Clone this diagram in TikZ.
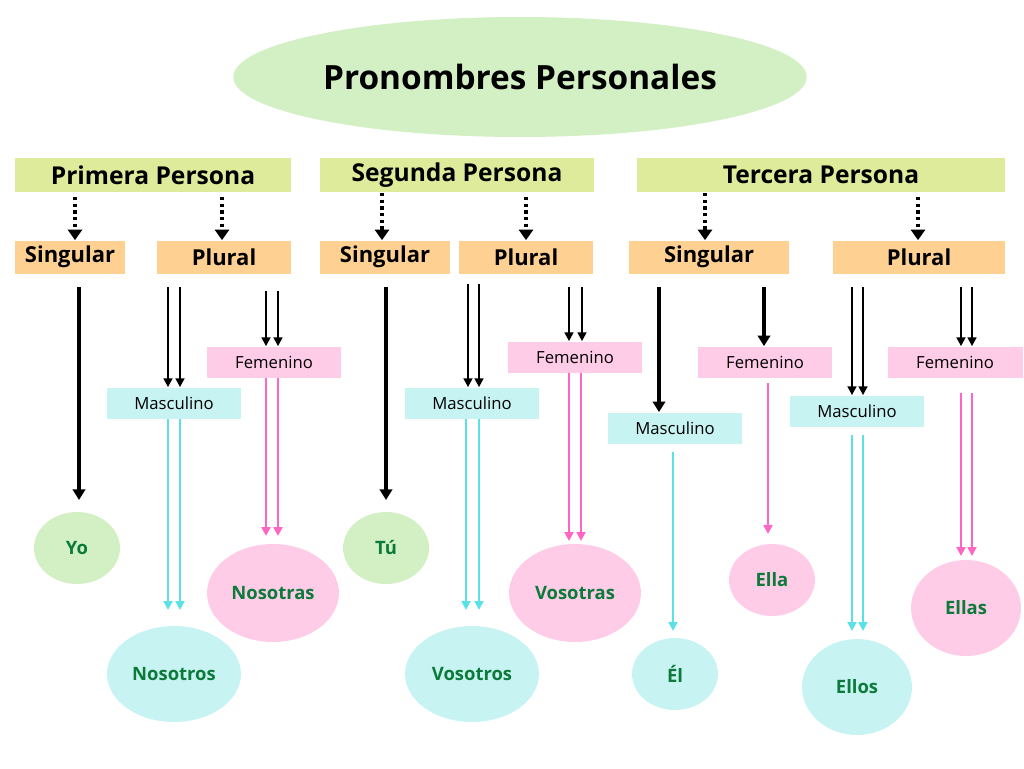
\documentclass[tikz,border=0pt]{standalone}
\usepackage{fontspec}
\setmainfont{Open Sans}
\usetikzlibrary{arrows.meta,shapes.geometric}
\definecolor{tg}{HTML}{D3F0C5}
\definecolor{hy}{HTML}{DDEB9B}
\definecolor{org}{HTML}{FED193}
\definecolor{cy}{HTML}{C8F3F3}
\definecolor{pk}{HTML}{FFCCE8}
\definecolor{cyl}{HTML}{5CE1E6}
\definecolor{pkl}{HTML}{FF66C4}
\definecolor{dg}{HTML}{0B7A3A}
\tikzset{
 hdr/.style={fill=hy,inner sep=0pt,minimum height=0.68cm,font=\fontsize{14}{16}\selectfont\bfseries},
 nb/.style={fill=org,inner sep=0pt,minimum height=0.66cm,font=\fontsize{12.5}{15}\selectfont\bfseries},
 mas/.style={fill=cy,inner sep=0pt,minimum width=2.7cm,minimum height=0.62cm,font=\fontsize{9.5}{11}\selectfont},
 fem/.style={fill=pk,inner sep=0pt,minimum width=2.7cm,minimum height=0.62cm,font=\fontsize{9.5}{11}\selectfont},
 pr/.style={ellipse,inner sep=0pt,text=dg,font=\fontsize{10.5}{12}\selectfont\bfseries},
 dot/.style={dotted,line width=1.8pt,-{Triangle[length=6pt,width=8pt]}},
 thick1/.style={line width=2.2pt,-{Triangle[length=6pt,width=7pt]}},
 blk/.style={line width=1.2pt,-{Triangle[length=5pt,width=5pt]}},
 cya/.style={cyl,line width=1.2pt,-{Triangle[length=5pt,width=5pt]}},
 pka/.style={pkl,line width=1.2pt,-{Triangle[length=5pt,width=5pt]}},
}
\begin{document}
\begin{tikzpicture}[x=0.02cm,y=-0.02cm]
\useasboundingbox (0,0) rectangle (1024,768);
\node[ellipse,fill=tg,minimum width=9.48cm,minimum height=2.4cm,font=\fontsize{19}{22}\selectfont\bfseries] (t) at (520,77) {Pronombres Personales};
\node[hdr,minimum width=5.54cm] (h1) at (153,175) {Primera Persona};
\node[hdr,minimum width=5.48cm] (h2) at (457,175) {Segunda Persona};
\node[hdr,minimum width=7.36cm] (h3) at (821,175) {Tercera Persona};
\node[nb,minimum width=2.22cm] (s1) at (70,257) {Singular};
\node[nb,minimum width=2.7cm] (p1) at (224,257) {Plural};
\node[nb,minimum width=2.6cm] (s2) at (385,257) {Singular};
\node[nb,minimum width=2.7cm] (p2) at (526,257) {Plural};
\node[nb,minimum width=3.2cm] (s3) at (709,257) {Singular};
\node[nb,minimum width=3.44cm] (p3) at (919,257) {Plural};
\coordinate (d1) at (75,197); \coordinate (d2) at (222,197); \coordinate (d3) at (382,193);
\coordinate (d4) at (526,197); \coordinate (d5) at (705,193); \coordinate (d6) at (918,197);
\draw[dot] (d1) -- ({75,0}|-s1.north);
\draw[dot] (d2) -- ({222,0}|-p1.north);
\draw[dot] (d3) -- ({382,0}|-s2.north);
\draw[dot] (d4) -- ({526,0}|-p2.north);
\draw[dot] (d5) -- ({705,0}|-s3.north);
\draw[dot] (d6) -- ({918,0}|-p3.north);
\node[mas] (m1) at (174,403) {Masculino};
\node[fem] (f1) at (274,362) {Femenino};
\node[mas] (m2) at (472,403) {Masculino};
\node[fem] (f2) at (575,357) {Femenino};
\node[mas] (m3) at (675,428) {Masculino};
\node[fem] (f3) at (765,362) {Femenino};
\node[mas] (m4) at (857,411) {Masculino};
\node[fem] (f4) at (955,362) {Femenino};
\node[pr,fill=tg,minimum width=1.72cm,minimum height=1.44cm] (yo) at (77,548) {Yo};
\node[pr,fill=cy,minimum width=2.68cm,minimum height=1.92cm] (nos) at (174,674) {Nosotros};
\node[pr,fill=pk,minimum width=2.64cm,minimum height=1.96cm] (nas) at (273,593) {Nosotras};
\node[pr,fill=tg,minimum width=1.72cm,minimum height=1.44cm] (tu) at (386,548) {Tú};
\node[pr,fill=cy,minimum width=2.68cm,minimum height=1.92cm] (vos) at (472,674) {Vosotros};
\node[pr,fill=pk,minimum width=2.64cm,minimum height=1.96cm] (vas) at (575,593) {Vosotras};
\node[pr,fill=pk,minimum width=1.72cm,minimum height=1.44cm] (ella) at (772,580) {Ella};
\node[pr,fill=cy,minimum width=1.72cm,minimum height=1.44cm] (el) at (675,674) {Él};
\node[pr,fill=cy,minimum width=2.2cm,minimum height=1.92cm] (ellos) at (857,687) {Ellos};
\node[pr,fill=pk,minimum width=2.2cm,minimum height=1.92cm] (ellas) at (966,608) {Ellas};
% black
\draw[thick1] (79,287) -- (79,500);
\draw[thick1] (386,287) -- (386,500);
\draw[thick1] (659,287) -- ({659,0}|-m3.north);
\draw[thick1] (764,287) -- ({764,0}|-f3.north);
\foreach \a/\b/\y/\n in {168/180/287/m1,266/278/291/f1,468/479/284/m2,569/582/287/f2,852/863/287/m4,961/972/287/f4}{
 \draw[blk] (\a,\y) -- ({\a,0}|-\n.north);
 \draw[blk] (\b,\y) -- ({\b,0}|-\n.north);}
% colored
\draw[cya] ({168,0}|-m1.south) -- (168,610); \draw[cya] ({180,0}|-m1.south) -- (180,610);
\draw[cya] ({466,0}|-m2.south) -- (466,610); \draw[cya] ({479,0}|-m2.south) -- (479,610);
\draw[cya] (673,452) -- (673,631);
\draw[cya] (852,435) -- (852,631); \draw[cya] (863,435) -- (863,631);
\draw[pka] ({266,0}|-f1.south) -- (266,536); \draw[pka] ({278,0}|-f1.south) -- (278,536);
\draw[pka] ({569,0}|-f2.south) -- (569,541); \draw[pka] ({581,0}|-f2.south) -- (581,541);
\draw[pka] (768,383) -- (768,534);
\draw[pka] (961,393) -- (961,556); \draw[pka] (972,393) -- (972,556);
\end{tikzpicture}
\end{document}
